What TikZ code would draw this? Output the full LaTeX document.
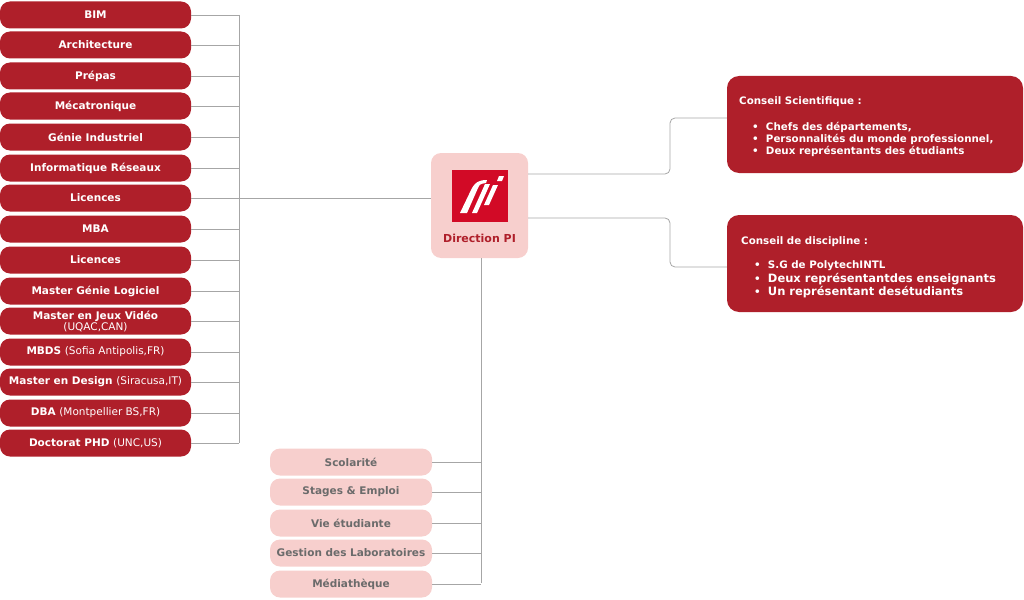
\documentclass[tikz,border=0pt]{standalone}
\usepackage{fontspec}
\setmainfont{DejaVu Sans}
\begin{document}
\begin{tikzpicture}[x=1pt,y=-1pt,
 red/.style={fill=myred,draw=none,rounded corners=10pt,minimum width=191pt,minimum height=27pt,text=white,font=\fontsize{10.5}{11}\selectfont\bfseries,align=center,inner sep=0pt},
 pink/.style={fill=mypink,draw=none,rounded corners=10pt,minimum width=162pt,minimum height=27pt,text=mygray,font=\fontsize{10.5}{11}\selectfont\bfseries,inner sep=0pt},
 big/.style={fill=myred,draw=none,rounded corners=12pt,minimum width=296pt,minimum height=97pt,inner sep=0pt},
 ln/.style={draw=gray!70,line width=0.8pt,rounded corners=5pt}]
\definecolor{myred}{HTML}{AF1F2A}
\definecolor{mypink}{HTML}{F7CFCD}
\definecolor{mygray}{HTML}{6B6B6B}
\definecolor{logored}{HTML}{D20A26}
\useasboundingbox (0,0) rectangle (1024,599);
\def\sub#1{{\mdseries #1}}
\foreach \n/\y/\t in {a/15/BIM,b/45/Architecture,c/76/Prépas,d/106/Mécatronique,e/137/Génie Industriel,f/168/Informatique Réseaux,g/198/Licences,h/229/MBA,i/260/Licences,j/291/Master Génie Logiciel,k/321/{Master en Jeux Vidéo\\\sub{(UQAC,CAN)}},l/352/{MBDS \sub{(Sofia Antipolis,FR)}},m/382/{Master en Design \sub{(Siracusa,IT)}},n/413/{DBA \sub{(Montpellier BS,FR)}},o/443/{Doctorat PHD \sub{(UNC,US)}}}{
 \node[red] (\n) at (95.5,\y) {\t};
 \coordinate (\n c) at (239,\y);
 \draw[ln] (\n.east) -- (\n c);
}
\draw[ln,rounded corners=0pt] (ac) -- (oc);
\node[fill=mypink,rounded corners=10pt,minimum width=97pt,minimum height=105pt] (dir) at (479.5,205.5) {};
\fill[logored] (452,170) rectangle (508,222);
\fill[white] (460,213) -- (467,213) -- (478,188) .. controls (480,184) .. (486,183) -- (487,180) .. controls (478,180) and (475,183) .. (472,188) -- cycle;
\fill[white] (472,213) -- (477,213) -- (490,184) -- (485,184) -- cycle;
\fill[white] (484,205) -- (489,205) -- (498,185) -- (493,185) -- cycle;
\fill[white] (497,181) -- (502,181) -- (504,176) -- (499,176) -- cycle;
\node[text=myred,font=\fontsize{11}{12}\selectfont\bfseries] (dt) at (479.5,238) {Direction PI};
\draw[ln] (gc) -- (dir.west |- gc);
\node[big] (cs) at (875,124.5) {};
\node[anchor=north west,text=white,font=\fontsize{10.3}{12}\selectfont\bfseries,align=left,inner sep=0pt] (cst) at (739,96) {Conseil Scientifique :\\[14pt]
\hspace*{13pt}\textbullet\ \ Chefs des départements,\\
\hspace*{13pt}\textbullet\ \ Personnalités du monde professionnel,\\
\hspace*{13pt}\textbullet\ \ Deux représentants des étudiants};
\node[big] (cd) at (875,263.5) {};
\node[anchor=north west,text=white,font=\fontsize{10.3}{13.5}\selectfont\bfseries,align=left,inner sep=0pt] (cdt) at (741,236) {Conseil de discipline :\\[11pt]
\hspace*{13pt}\textbullet\ \ S.G de PolytechINTL\\
\hspace*{13pt}\textbullet\ \ {\fontsize{11.5}{13.5}\selectfont Deux représentantdes enseignants}\\
\hspace*{13pt}\textbullet\ \ {\fontsize{11.5}{13.5}\selectfont Un représentant desétudiants}};
\draw[ln] (528,174) -- (670,174) -- (670,118) -- (cs.west |- 0,118);
\draw[ln] (528,218) -- (670,218) -- (670,267) -- (cd.west |- 0,267);
\coordinate (bt) at (481,583);
\draw[ln,rounded corners=0pt] (dir.south -| bt) -- (bt);
\foreach \n/\y/\t in {p/462/Scolarité,q/492/Stages \& Emploi,r/523/Vie étudiante,s/553/Gestion des Laboratoires,t/584/Médiathèque}{
 \node[pink] (\n) at (351,\y) {\t};
 \draw[ln] (\n.east) -- (481,\y);
}
\end{tikzpicture}
\end{document}
